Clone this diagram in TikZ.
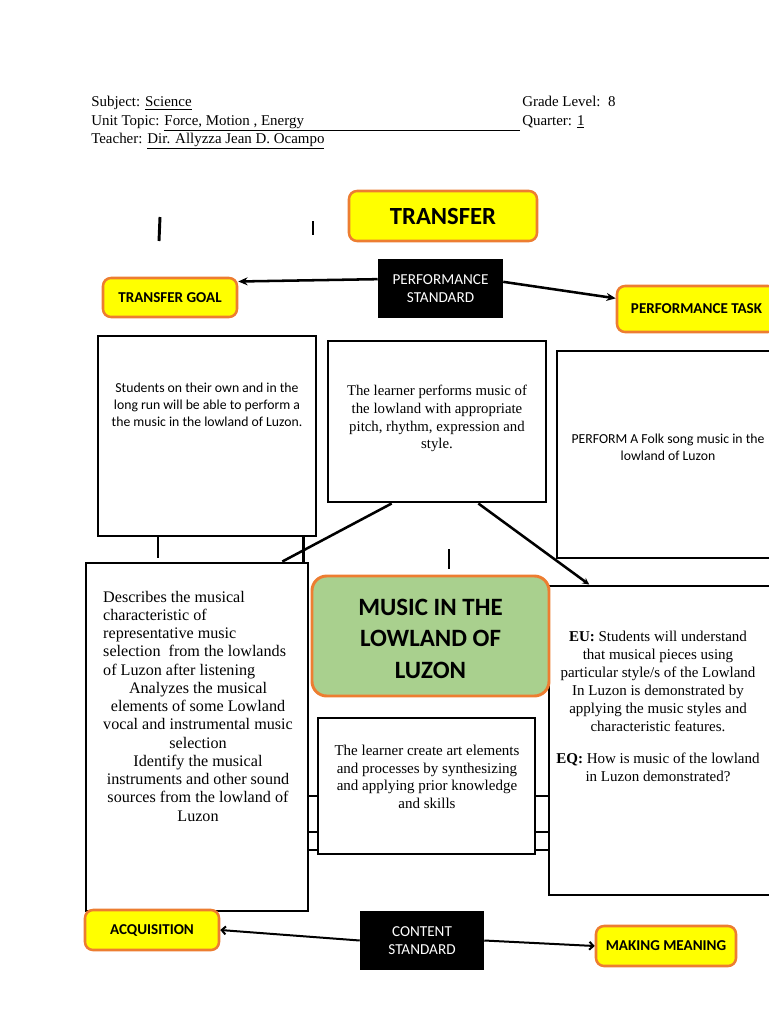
\documentclass[tikz,border=0pt]{standalone}
\usepackage{fontspec}
\setmainfont{Liberation Serif}
\newfontfamily\carlito{Carlito}
\usetikzlibrary{positioning,arrows.meta,fit}
\definecolor{cYellow}{HTML}{FFFF00}
\definecolor{cOrange}{HTML}{ED7D31}
\definecolor{cGreen}{HTML}{A9D08E}
\newcommand\cent[1]{\multicolumn{1}{@{}c@{}}{#1}}
\tikzset{
  hdr/.style={inner sep=0pt,anchor=base west,font=\fontsize{11.2}{13}\selectfont},
  goal/.style={rounded corners=6pt,draw=cOrange,fill=cYellow,line width=1.9pt,inner sep=0pt},
  goaltxt/.style={inner sep=0pt,font=\carlito\bfseries\fontsize{11.3}{13}\selectfont},
  stdbox/.style={fill=black,inner sep=0pt},
  stdtxt/.style={text=white,align=center,inner sep=0pt,font=\carlito\fontsize{11.4}{14}\selectfont},
  tbox/.style={draw=black,line width=2.2pt,inner sep=0pt,fill=white},
  music/.style={rounded corners=11pt,draw=cOrange,fill=cGreen,line width=2.2pt,inner sep=0pt},
  musictxt/.style={align=center,inner sep=0pt,font=\carlito\bfseries\fontsize{18.7}{23.5}\selectfont},
  ctext/.style={align=center,inner sep=0pt,anchor=north,font=\carlito\fontsize{10.3}{12.75}\selectfont},
  stext/.style={align=center,inner sep=0pt,anchor=north,font=\fontsize{11.1}{13.3}\selectfont},
  arr/.style={-{Stealth[length=7pt,width=6pt]},line width=1.9pt},
  arrsm/.style={-{Stealth[length=5pt,width=5pt]},line width=1.9pt},
  barb/.style={-{Straight Barb[length=3pt,width=6pt]},line width=1.5pt},
  link/.style={line width=1.9pt},
  thinlink/.style={line width=0.8pt},
  stub/.style={line width=2.2pt}}

\begin{document}
\begin{tikzpicture}[x=0.75pt,y=-0.75pt]
\useasboundingbox[fill=white] (0,0) rectangle (768,1024);
% header
\node[hdr] (subj) at (91,107) {Subject: \underline{Science}};
\node[hdr] (topic) at (91,125) {Unit Topic: \underline{\makebox[267pt][l]{Force, Motion , Energy}}};
\node[hdr] (teacher) at (91,143) {Teacher: \underline{Dir. Allyzza Jean D. Ocampo}};
\node[hdr] (grade) at (522,107) {Grade Level:\ \ 8};
\node[hdr] (quarter) at (522,125) {Quarter: \underline{1}};
% transfer row
\node[goal,fit={(349,191)(537,241)}] (transfer) {};
\node[goaltxt,font=\carlito\bfseries\fontsize{18.5}{20}\selectfont] (transfertxt) at (transfer.center) {TRANSFER};
\node[stdbox,fit={(378,259)(503,318)}] (pstd) {};
\node[stdtxt] (pstdtxt) at (pstd.center) {PERFORMANCE\\STANDARD};
\node[goal,fit={(103,278)(237,317)}] (tgoal) {};
\node[goaltxt] (tgoaltxt) at (tgoal.center) {TRANSFER GOAL};
\node[goal,fit={(617,286)(776,332)}] (ptask) {};
\node[goaltxt] (ptasktxt) at (ptask.center) {PERFORMANCE TASK};
\draw[stub] (160,217) -- (159,241);
\draw[stub] (313,221) -- (313,235);
% upper boxes
\node[tbox,fit={(98,336)(316,536)}] (tgbox) {};
\node[ctext] (tgtxt) at (207,383) {Students on their own and in the\\long run will be able to perform a\\the music in the lowland of Luzon.};
\node[tbox,fit={(328,341)(546,502)}] (psbox) {};
\node[stext] (pstxt) at (437,385) {The learner performs music of\\the lowland with appropriate\\pitch, rhythm, expression and\\style.};
\node[tbox,fit={(557,351)(776,558)}] (ptbox) {};
\node[ctext] (pttxt) at (668,434) {PERFORM A Folk song music in the\\lowland of Luzon};
% lower boxes
\node[tbox,fit={(86,563)(308,911)}] (lbox) {};
\node[tbox,fit={(549,586)(776,895)}] (rbox) {};
\foreach \yy in {796,832,850} {
  \coordinate (ylev) at (0,\yy);
  \draw[thinlink] (lbox.east |- ylev) -- (rbox.west |- ylev);
}
\node[tbox,fit={(318,718)(535,854)}] (csbox) {};
\node[stext,font=\fontsize{11.25}{13.1}\selectfont] (cstxt) at (427,745) {The learner create art elements\\and processes by synthesizing\\and applying prior knowledge\\and skills};
\node[music,fit={(312,576)(549,696)}] (music) {};
\node[musictxt] (musictxt) at ([yshift=-2pt]music.center) {MUSIC IN THE\\LOWLAND OF\\LUZON};
\node[inner sep=0pt,anchor=north,font=\fontsize{12.1}{13.7}\selectfont] (lbtxt) at (198,589) {\begin{tabular}{@{}l@{}}
Describes the musical\\
characteristic of\\
representative music\\
selection\ \ from the lowlands\\
of Luzon after listening\\
\cent{Analyzes the musical}\\
\cent{elements of some Lowland}\\
\cent{vocal and instrumental music}\\
\cent{selection}\\
\cent{Identify the musical}\\
\cent{instruments and other sound}\\
\cent{sources from the lowland of}\\
\cent{Luzon}
\end{tabular}};
\node[stext,font=\fontsize{11.25}{13.5}\selectfont] (rbtxt) at (658,631) {\textbf{EU:} Students will understand\\that musical pieces using\\particular style/s of the Lowland\\In Luzon is demonstrated by\\applying the music styles and\\characteristic features.\\[10pt]\textbf{EQ:} How is music of the lowland\\in Luzon demonstrated?};
\draw[stub] (158,537) -- (158,558);
\draw[stub] (449,549) -- (449,569);
% bottom row
\node[goal,fit={(85,910)(219,950)}] (acq) {};
\node[goaltxt] (acqtxt) at (acq.center) {ACQUISITION};
\node[stdbox,fit={(360,911)(484,970)}] (cstd) {};
\node[stdtxt] (cstdtxt) at (cstd.center) {CONTENT\\STANDARD};
\node[goal,fit={(596,926)(736,966)}] (mmean) {};
\node[goaltxt] (mmeantxt) at (mmean.center) {MAKING MEANING};
% connectors
\draw[arr] ([yshift=7pt]pstd.west) -- ([yshift=12pt]tgoal.east);
\draw[arr] ([yshift=5pt]pstd.east) -- ([yshift=8pt]ptask.west);
\draw[link] ([xshift=-34pt]psbox.south) -- ([xshift=64pt]lbox.north);
\draw[arrsm] ([xshift=31pt]psbox.south) -- ([xshift=-55pt]rbox.north);
\coordinate (tgdrop) at ([xshift=-10.5pt]tgbox.south east);
\draw[link] (tgdrop) -- (tgdrop |- lbox.north);
\draw[barb] (cstd.west) -- (acq.east);
\draw[barb] (cstd.east) -- (mmean.west);
\end{tikzpicture}
\end{document}
